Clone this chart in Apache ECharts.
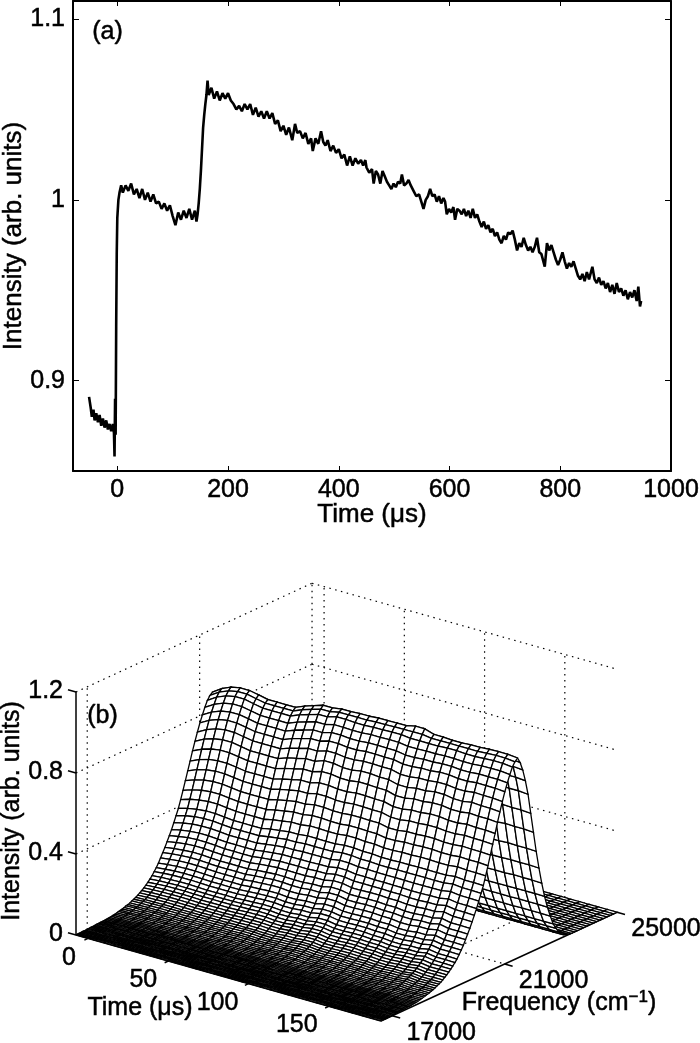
<!DOCTYPE html>
<html>
<head>
<meta charset="utf-8">
<style>html,body{margin:0;padding:0;background:#fff}#chart{width:700px;height:1043px}</style>
<script src="https://cdn.jsdelivr.net/npm/echarts@6/dist/echarts.min.js"></script>
</head>
<body>
<div id="chart"></div>
<script>
// Panel (a): time trace, [time in microseconds, intensity]
const tracePoints = [[-51,.891],[-48,.885],[-46,.880],[-43,.884],[-41,.878],[-38,.882],[-35,.877],[-32,.881],[-29,.875],[-26,.879],[-23,.874],[-20,.878],[-17,.873],[-14,.876],[-11,.872],[-8,.876],[-6,.871],[-5,.858],[-4,.890],[-3,.870],[-2,.930],[-1,.970],[0,.990],[2,1.000],[4,1.004],[7,1.008],
[10,1.004],[15,1.008],[20,1.005],[25,1.009],[30,1.003],[35,1.006],[40,1.001],[45,1.006],[50,1.000],[55,1.004],[60,.999],[65,1.003],[70,.998],[75,.999],[80,.995],[85,.998],[90,.994],[95,.997],[100,.991],[105,.986],[110,.993],[115,.989],[120,.994],[125,.990],[130,.995],[135,.989],[140,.994],[143,.988],[145,.992],
[147,.998],[149,1.006],[151,1.016],[153,1.028],[155,1.040],[157,1.047],[159,1.053],[161,1.058],[163,1.066],[165,1.058],[170,1.062],[175,1.056],[180,1.060],[185,1.055],[190,1.059],[195,1.056],[200,1.059],[205,1.055],[210,1.053],[215,1.050],[220,1.052],[225,1.049],[230,1.053],[235,1.050],[240,1.053],[245,1.047],[250,1.051],[255,1.046],[260,1.049],[265,1.045],[270,1.049],[275,1.045],[280,1.048],[285,1.042],[290,1.044],[295,1.038],[300,1.041],[305,1.036],[310,1.040],[316,1.033],[321,1.042],[325,1.037],[330,1.038],[335,1.034],[340,1.037],[345,1.031],[350,1.034],[353,1.027],[358,1.034],[363,1.031],[368,1.038],[372,1.032],[376,1.030],[380,1.033],[385,1.027],[390,1.030],[395,1.026],[400,1.028],[405,1.023],[410,1.025],[415,1.019],[420,1.024],[425,1.019],[430,1.023],[435,1.020],[440,1.022],[444,1.019],[448,1.022],
[450,1.018],[455,1.015],[460,1.017],[463,1.009],[467,1.016],[471,1.014],[475,1.009],[479,1.016],[483,1.013],[487,1.010],[491,1.008],[495,1.006],[499,1.009],[503,1.007],[507,1.010],[511,1.009],[514,1.014],[518,1.008],[522,1.009],[526,1.011],[530,1.008],[535,1.005],[540,1.002],[545,1.003],[550,.998],[553,.995],[557,1.000],[561,1.002],[565,1.006],[569,1.002],[573,1.003],[577,.999],[581,1.002],[585,.998],[589,1.001],[592,.999],[595,.992],[599,.995],[603,.993],[607,.996],[610,.989],[614,.995],[618,.994],[622,.992],[626,.995],[630,.991],[634,.994],[638,.990],[642,.995],[646,.990],[650,.992],[654,.988],[658,.985],[662,.988],[666,.984],[670,.986],[674,.982],[678,.984],[682,.980],[686,.982],[690,.978],[694,.976],[698,.980],[702,.978],[706,.982],[710,.981],[714,.983],[718,.978],[722,.972],[726,.976],[730,.974],[734,.979],[738,.975],[742,.972],[746,.974],[750,.971],[754,.974],[758,.979],[762,.971],[766,.970],[772,.963],[776,.976],[780,.972],[784,.975],[788,.971],[792,.967],[796,.964],[800,.967],[804,.971],[808,.966],[812,.962],[816,.965],[820,.963],[824,.966],[828,.962],[832,.958],[836,.956],[840,.959],[844,.955],[848,.960],[852,.956],[858,.963],[862,.956],[866,.954],[870,.957],[874,.953],[878,.955],[882,.951],[886,.954],[890,.949],[894,.953],[898,.948],[902,.954],[906,.949],[910,.951],[914,.947],[918,.950],[922,.945],[926,.949],[930,.946],[934,.950],[938,.944],[941,.952],[944,.941],[946,.944]];
const traceTimeTicks = [0,200,400,600,800,1000];
const traceIntensityTicks = [0.9,1,1.1];

// Panel (b): spectra in thousandths, sampled at meshWavelengths; spectra stop where the signal reaches zero
const meshWavelengths = [602,600,598,596,594,592,590,588,586,584,582,580,578,576,574,572,570,568,566,564,562,560,558,556,554,552,550,548,546,544,542,540,538,536,534,532,530,528,526,524,522,520,518,516,514,512,510,508,506,504,502,500,498,496,494,492,490,488,486,484,482,480,478,476,474,472,470,468,466,464,462,460,458,456,454,452,450,448,446,444,442,440,438,436,434,432,430,428,426,424,422,420,418,416,414,412,410,408,406,404,402,400];
const spectrumFoot = [0,1,1,1,2,2,2,3,3,4,4,4,5,6,6,7];
const spectrumRise1 = [...spectrumFoot,7,7,8,9,10,11,13,14,16,19,21,23,26,30,32,36,41,45,50,56,63,70,78,87,97,108,120,135,150,167,188,209,230,254,278,303,332,362,392,430,471,513,556,599,644,686,726,765,799,831,860,878,889,864,825,772,707,617,527,437,356,284,219,166,120,79,53,31,14,7,3];
const spectrumRise2 = [...spectrumFoot,7,7,8,9,10,11,13,15,17,20,21,24,27,31,33,37,42,47,51,58,65,73,81,90,100,112,124,140,155,173,194,216,237,262,287,313,343,374,405,445,486,530,575,619,665,709,751,791,826,858,888,907,919,893,853,798,730,637,544,451,368,293,226,171,124,82,55,32,15,7,3];
const spectrumEarlyA = [...spectrumFoot,8,8,9,10,10,11,13,15,17,20,22,25,28,31,34,38,43,48,52,59,67,74,83,92,103,114,126,143,159,177,199,220,242,268,294,320,351,382,413,454,497,542,587,633,679,724,767,808,844,877,907,926,939,912,871,815,746,651,556,461,376,299,231,175,126,84,56,32,15,8,3];
const spectrumEarlyB = [...spectrumFoot,8,8,9,10,11,12,13,15,17,20,22,25,28,32,35,38,43,48,53,60,67,75,84,93,104,115,128,144,160,179,201,223,245,271,297,324,354,386,418,459,502,547,593,639,686,732,775,816,852,886,917,936,948,922,880,824,754,658,562,466,380,302,233,177,128,84,57,33,15,8,3];
const spectrumDip = [...spectrumFoot,8,8,8,9,10,11,13,15,17,20,22,24,27,31,34,38,42,47,52,58,66,73,82,91,102,113,125,141,157,175,196,218,240,265,290,317,347,378,409,449,492,536,581,626,672,716,759,799,835,868,898,917,929,902,862,807,738,644,550,456,372,296,228,173,125,83,55,32,15,8,3];
const spectrumClimb = [...spectrumFoot,8,8,9,10,11,12,14,16,18,20,22,25,28,32,35,39,44,49,54,60,68,76,85,95,105,117,130,146,163,181,204,226,249,275,301,329,360,392,424,466,510,556,603,649,697,743,787,829,866,900,931,951,963,936,894,837,765,668,570,473,386,307,237,179,130,86,58,33,16,8,3];
const spectrumNear = [...spectrumFoot,8,8,9,10,11,12,14,16,18,21,23,26,29,33,36,40,45,50,54,61,69,77,86,96,107,119,132,149,165,184,207,230,252,279,306,334,365,398,431,473,518,564,612,659,708,754,799,842,879,914,945,965,978,950,908,849,777,678,579,480,392,312,241,182,132,87,58,34,16,8,3];
const spectrumFull = [...spectrumFoot,8,8,9,10,11,12,14,16,18,21,23,26,29,33,36,40,45,50,55,62,70,78,87,97,108,120,133,150,167,186,209,232,255,282,309,337,369,402,435,478,523,570,618,666,715,762,807,850,888,923,955,975,988,960,917,858,785,685,585,485,396,315,243,184,133,88,59,34,16,8,3];
const spectrumHigh = [...spectrumFoot,8,8,9,10,11,12,14,16,18,21,23,26,29,33,36,40,45,50,55,62,70,78,87,97,109,121,134,151,168,187,210,233,256,283,311,339,371,404,437,480,526,573,621,669,719,766,811,854,892,928,960,980,993,965,922,862,789,688,588,487,398,317,244,185,134,88,59,34,16,8,3];
const spectrumWaveA = [...spectrumFoot,8,9,10,11,12,13,15,17,20,23,25,29,32,36,40,44,49,55,60,67,76,84,94,104,116,128,142,159,176,196,219,242,265,292,318,346,377,409,441,484,528,575,623,672,722,770,813,855,893,927,958,978,992,968,925,865,790,690,590,488,398,318,244,185,134,88,59,34,16,8,3];
const spectrumWaveB = [...spectrumFoot,8,8,8,9,10,11,13,15,17,19,21,24,27,31,34,38,42,47,52,58,66,74,83,92,103,115,128,145,161,180,203,227,250,278,306,335,368,402,436,480,526,574,623,672,722,770,813,856,892,925,958,975,985,958,915,856,782,682,582,483,394,314,242,184,133,88,59,34,16,8,3];
const spectrumWaveC = [...spectrumFoot,8,8,9,10,11,12,14,16,18,21,23,26,30,34,37,42,46,52,57,64,72,81,90,100,111,123,137,153,170,189,212,235,258,285,311,338,369,401,433,475,518,563,610,657,706,754,800,845,884,921,955,981,1003,975,930,870,800,698,596,495,404,322,247,187,136,90,60,34,16,8,3];
const meshTimes = [-7.5,-1.75,4,9.75,15.5,21.25,27,32.75,38.5,44.25,50,55.75,61.5,67.25,73,78.75,84.5,90.25,96,101.75,107.5,113.25,119,124.75,130.5,136.25,142,147.75,153.5,159.25,165,170.75,176.5,182.5];
const meshSpectra = [spectrumRise1,spectrumRise2,spectrumEarlyA,spectrumEarlyB,spectrumEarlyB,spectrumEarlyA,spectrumDip,spectrumDip,spectrumDip,spectrumDip,spectrumEarlyB,spectrumClimb,spectrumNear,spectrumNear,spectrumWaveB,spectrumWaveB,spectrumFull,spectrumFull,spectrumWaveA,spectrumWaveA,spectrumHigh,spectrumHigh,spectrumWaveC,spectrumWaveC,spectrumFull,spectrumFull,spectrumWaveB,spectrumWaveB,spectrumFull,spectrumFull,spectrumWaveA,spectrumHigh,spectrumHigh,spectrumFull];
const surfaceTimeTicks = [0,50,100,150];
const surfaceFrequencyTicks = [17000,21000,25000];
const surfaceIntensityTicks = [0,0.4,0.8,1.2];
const frequencyTickLabels = ['17000','21000','25000'];

const FONT = '"Liberation Sans", Arial, sans-serif';
const INK = '#000';

// Box limits of the surface plot
const tMin = -7.5, tMax = 182.5, fMin = 16600, fMax = 25000, zTop = 1.2;

// Oblique view of (time, frequency, intensity) onto the drawing plane
function project(t, f, z) {
  const dt = t - tMin, df = f - fMin;
  return [76 + dt * 1.605 + df * 0.0281, 935 + dt * 0.4526 - df * 0.01295 - z * 202.5];
}

// Box, grid and axis segments: [t0, f0, z0, t1, f1, z1, isDotted]
const guides = [];
const dotted = (a, b) => guides.push([...a, ...b, 1]);
const solid = (a, b) => guides.push([...a, ...b, 0]);
surfaceTimeTicks.forEach(t => {
  dotted([t, fMin, 0], [t, fMax, 0]);
  dotted([t, fMax, 0], [t, fMax, zTop]);
});
surfaceFrequencyTicks.forEach(f => {
  dotted([tMin, f, 0], [tMax, f, 0]);
  dotted([tMin, f, 0], [tMin, f, zTop]);
});
surfaceIntensityTicks.filter(z => z > 0).forEach(z => {
  dotted([tMin, fMin, z], [tMin, fMax, z]);
  dotted([tMin, fMax, z], [tMax, fMax, z]);
});
solid([tMin, fMin, 0], [tMin, fMin, zTop]);
solid([tMin, fMin, 0], [tMax, fMin, 0]);
solid([tMax, fMin, 0], [tMax, fMax, 0]);
surfaceIntensityTicks.forEach(z => solid([tMin, fMin, z], [tMin - 5, fMin, z]));
surfaceTimeTicks.forEach(t => solid([t, fMin, 0], [t, fMin - 130, 0]));
surfaceFrequencyTicks.forEach(f => solid([tMax, f, 0], [tMax + 5, f, 0]));

// Quads ordered far to near so the white faces hide what lies behind them
const quads = [];
for (let j = meshWavelengths.length - 2; j >= 0; j--) {
  for (let i = 0; i < meshTimes.length - 1; i++) quads.push([i, j]);
}
const meshValue = (i, j) => (meshSpectra[i][j] ?? 0) / 1000;
const meshFrequency = j => 1e7 / meshWavelengths[j];

// Tick labels: [t, f, z, text, dx, dy, align]
const tickLabels = [
  ...surfaceTimeTicks.map((t, k) => [t, fMin, 0, String(t), [-19, -25, -31, -32][k], [20, 19, 19, 19][k], 'center']),
  ...surfaceFrequencyTicks.map((f, k) => [tMax, f, 0, frequencyTickLabels[k], 49, 17, 'center']),
  ...surfaceIntensityTicks.map(z => [tMin, fMin, z, String(z), -13, -1, 'right'])
];

const chart = echarts.init(document.getElementById('chart'), null, { renderer: 'canvas' });

const heavy = { stroke: INK, lineWidth: 0.5 };
const tickFont = { color: INK, fontFamily: FONT, fontSize: 25, textBorderColor: INK, textBorderWidth: 0.5 };
const frameLine = { show: true, onZero: false, lineStyle: { color: INK, width: 2 } };
const titleFont = { color: INK, fontFamily: FONT, fontSize: 26, textBorderColor: INK, textBorderWidth: 0.5 };

chart.setOption({
  backgroundColor: '#fff',
  animation: false,
  grid: [
    { left: 73, top: 1, width: 598, height: 470, outerBoundsMode: 'none' },
    { left: 0, top: 0, width: 700, height: 1043, outerBoundsMode: 'none' }
  ],
  xAxis: [
    {
      gridIndex: 0, type: 'value', min: -80, max: 1000, splitLine: { show: false },
      axisLine: frameLine,
      axisTick: { inside: true, length: 5, customValues: traceTimeTicks, lineStyle: { color: INK, width: 1 } },
      axisLabel: { ...tickFont, margin: 7, customValues: traceTimeTicks, hideOverlap: false, formatter: v => String(v) },
      name: 'Time (μs)', nameLocation: 'middle', nameGap: 31, nameMoveOverlap: false, nameTextStyle: titleFont
    },
    {
      gridIndex: 0, type: 'value', position: 'top', min: -80, max: 1000, splitLine: { show: false },
      axisLine: frameLine,
      axisTick: { inside: true, length: 5, customValues: traceTimeTicks, lineStyle: { color: INK, width: 1 } },
      axisLabel: { show: false }
    },
    { gridIndex: 1, type: 'value', min: 0, max: 700, show: false }
  ],
  yAxis: [
    {
      gridIndex: 0, type: 'value', min: 0.85, max: 1.11, splitLine: { show: false },
      axisLine: frameLine,
      axisTick: { inside: true, length: 6, customValues: traceIntensityTicks, lineStyle: { color: INK, width: 1 } },
      axisLabel: { ...tickFont, margin: 8, customValues: traceIntensityTicks, formatter: v => String(v) },
      name: 'Intensity (arb. units)', nameLocation: 'middle', nameGap: 46, nameMoveOverlap: false, nameTextStyle: titleFont
    },
    {
      gridIndex: 0, type: 'value', position: 'right', min: 0.85, max: 1.11, splitLine: { show: false },
      axisLine: frameLine,
      axisTick: { inside: true, length: 6, customValues: traceIntensityTicks, lineStyle: { color: INK, width: 1 } },
      axisLabel: { show: false }
    },
    { gridIndex: 1, type: 'value', min: 0, max: 1043, inverse: true, show: false }
  ],
  graphic: [
    { type: 'text', left: 92, top: 19, style: { text: '(a)', fill: INK, font: '25px ' + FONT, ...heavy } },
    { type: 'text', left: 87, top: 703, style: { text: '(b)', fill: INK, font: '25px ' + FONT, ...heavy } },
    { type: 'text', x: 12, y: 811, rotation: Math.PI / 2, style: { text: 'Intensity (arb. units)', fill: INK, font: '25px ' + FONT, align: 'center', verticalAlign: 'middle', ...heavy } },
    { type: 'text', x: 140, y: 1008, style: { text: 'Time (μs)', fill: INK, font: '25px ' + FONT, align: 'center', verticalAlign: 'middle', ...heavy } },
    { type: 'text', x: 559, y: 1003, style: {
        text: 'Frequency (cm{sup|−1})', fill: INK, font: '25px ' + FONT, align: 'center', verticalAlign: 'middle', ...heavy,
        rich: { sup: { fontSize: 17, fontFamily: FONT, fill: INK, verticalAlign: 'top', padding: [0, 0, 12, 0] } }
      } }
  ],
  series: [
    {
      name: 'trace', type: 'line', xAxisIndex: 0, yAxisIndex: 0, data: tracePoints,
      showSymbol: false, symbol: 'none', smooth: false, clip: false,
      lineStyle: { color: INK, width: 2.6 }, silent: true
    },
    {
      name: 'guides', type: 'custom', xAxisIndex: 2, yAxisIndex: 2, coordinateSystem: 'cartesian2d',
      clip: false, silent: true, progressive: 0, z: 2,
      data: guides.map((g, k) => [k]),
      encode: { x: 0, y: 0 },
      renderItem(params, api) {
        const g = guides[api.value(0)];
        const a = api.coord(project(g[0], g[1], g[2]));
        const b = api.coord(project(g[3], g[4], g[5]));
        return {
          type: 'line',
          shape: { x1: a[0], y1: a[1], x2: b[0], y2: b[1] },
          style: g[6]
            ? { stroke: INK, lineWidth: 1.2, lineDash: [1.5, 4.5] }
            : { stroke: INK, lineWidth: 1.5 }
        };
      }
    },
    {
      name: 'surface', type: 'custom', xAxisIndex: 2, yAxisIndex: 2, coordinateSystem: 'cartesian2d',
      clip: false, silent: true, progressive: 0, z: 3,
      data: quads,
      encode: { x: 0, y: 1 },
      renderItem(params, api) {
        const i = api.value(0), j = api.value(1);
        const corner = (a, b) => api.coord(project(meshTimes[a], meshFrequency(b), meshValue(a, b)));
        return {
          type: 'polygon',
          shape: { points: [corner(i, j), corner(i + 1, j), corner(i + 1, j + 1), corner(i, j + 1)] },
          style: { fill: '#fff', stroke: INK, lineWidth: 1.3 }
        };
      }
    },
    {
      name: 'tick labels', type: 'custom', xAxisIndex: 2, yAxisIndex: 2, coordinateSystem: 'cartesian2d',
      clip: false, silent: true, z: 4,
      data: tickLabels.map((l, k) => [k]),
      encode: { x: 0, y: 0 },
      renderItem(params, api) {
        const l = tickLabels[api.value(0)];
        const p = api.coord(project(l[0], l[1], l[2]));
        return {
          type: 'text', x: p[0] + l[4], y: p[1] + l[5],
          style: { text: l[3], fill: INK, font: '25px ' + FONT, align: l[6], verticalAlign: 'middle', ...heavy }
        };
      }
    }
  ]
});
</script>
</body>
</html>
